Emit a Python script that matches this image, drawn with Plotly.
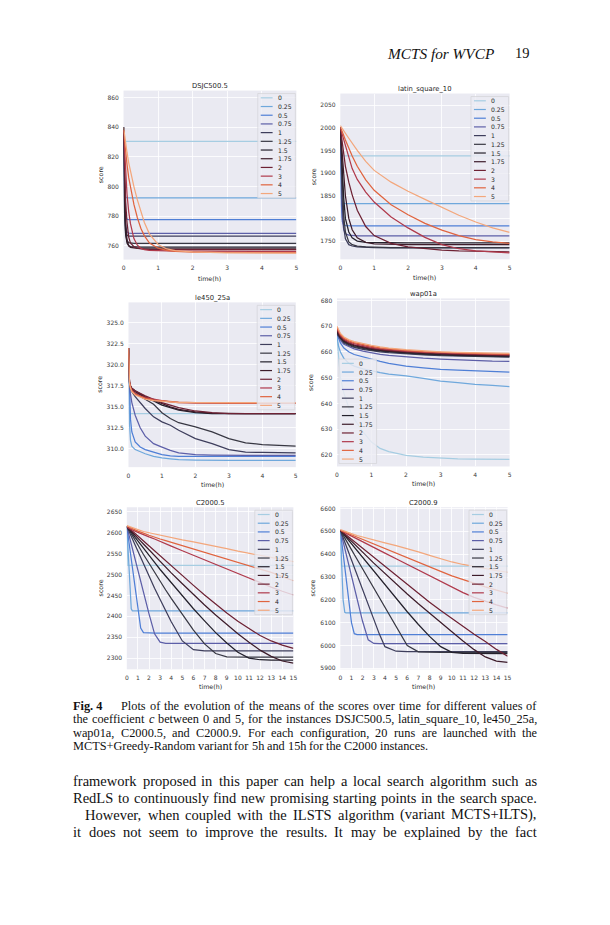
import re
import plotly.graph_objects as go

# page geometry: the browser puts the figure 8px from the top-left corner
PAGE_W, PAGE_H = 610, 925
OX, OY = 8, 8
FW, FH = 594, 909

# ---------------- data ----------------
coef_labels = ["0", "0.25", "0.5", "0.75", "1", "1.25", "1.5", "1.75", "2", "3", "4", "5"]
line_colors = ["#a6cde2", "#6fa8dc", "#4f7fd6", "#5d5fa8", "#3e3e5c", "#383843", "#24212c",
               "#3d1c2a", "#6e2234", "#b03a4c", "#e0643f", "#f3a77c"]

panel_titles = ["DSJC500.5", "latin_square_10", "le450_25a", "wap01a", "C2000.5", "C2000.9"]

xticks_5h = [0, 1, 2, 3, 4, 5]
xticks_15h = [0, 1, 2, 3, 4, 5, 6, 7, 8, 9, 10, 11, 12, 13, 14, 15]
yticks_dsjc = [760, 780, 800, 820, 840, 860]
yticks_latin = [1750, 1800, 1850, 1900, 1950, 2000, 2050]
yticks_le450 = [310.0, 312.5, 315.0, 317.5, 320.0, 322.5, 325.0]
yticks_wap = [620, 630, 640, 650, 660, 670, 680]
yticks_c5 = [2300, 2350, 2400, 2450, 2500, 2550, 2600, 2650]
yticks_c9 = [5900, 6000, 6100, 6200, 6300, 6400, 6500, 6600]

# DSJC500.5
time_dsjc = [0, 0.03, 0.06, 0.1, 0.15, 0.2, 0.3, 0.4, 0.5, 0.6, 0.75, 1.0, 1.25, 1.5, 2, 3, 5]
dsjc_0 = [840, 830.4, 830.4, 830.4, 830.4, 830.4, 830.4, 830.4, 830.4, 830.4, 830.4, 830.4, 830.4, 830.4, 830.4, 830.4, 830.4]
dsjc_025 = [840, 800, 793, 792.4, 792.4, 792.4, 792.4, 792.4, 792.4, 792.4, 792.4, 792.4, 792.4, 792.4, 792.4, 792.4, 792.4]
dsjc_05 = [840, 790, 780, 778, 777.8, 777.8, 777.8, 777.8, 777.8, 777.8, 777.8, 777.8, 777.8, 777.8, 777.8, 777.8, 777.8]
dsjc_075 = [840, 786, 773, 769.5, 768.6, 768.4, 768.4, 768.4, 768.4, 768.4, 768.4, 768.4, 768.4, 768.4, 768.4, 768.4, 768.4]
dsjc_1 = [840, 782, 770, 767.2, 766.7, 766.7, 766.7, 766.7, 766.7, 766.7, 766.7, 766.7, 766.7, 766.7, 766.7, 766.7, 766.7]
dsjc_125 = [840, 782, 768, 763.5, 762.2, 761.9, 761.8, 761.8, 761.8, 761.8, 761.8, 761.8, 761.8, 761.8, 761.8, 761.8, 761.8]
dsjc_15 = [840, 786, 768, 762, 760.2, 759.6, 759.3, 759.2, 759.2, 759.2, 759.2, 759.2, 759.2, 759.2, 759.2, 759.2, 759.2]
dsjc_175 = [838, 796, 776, 764, 760, 759, 758.5, 758.3, 758.2, 758.1, 758, 758, 758, 758, 758, 758, 758]
dsjc_2 = [838, 810, 790, 776, 766, 762, 759.5, 758.5, 758, 757.8, 757.6, 757.5, 757.5, 757.5, 757.5, 757.5, 757.5]
dsjc_3 = [838, 822, 808, 795, 783, 775, 765, 760.5, 758.5, 757.5, 757, 756.8, 756.6, 756.5, 756.5, 756.4, 756.3]
dsjc_4 = [838, 830, 823, 815, 806, 799, 788, 779, 772, 767, 762, 758.5, 757, 756.3, 755.8, 755.6, 755.5]
dsjc_5 = [840, 834, 829, 823, 816, 810, 800, 791, 783, 776, 768, 761, 758, 756.8, 756, 755.4, 755.2]

# latin_square_10
time_latin = [0, 0.03, 0.06, 0.1, 0.15, 0.25, 0.35, 0.5, 0.75, 1, 1.5, 2, 2.5, 3, 3.5, 4, 4.5, 5]
latin_0 = [2002, 1938, 1938, 1938, 1938, 1938, 1938, 1938, 1938, 1938, 1938, 1938, 1938, 1938, 1938, 1938, 1938, 1938]
latin_025 = [2002, 1845, 1834, 1833, 1832.6, 1832.6, 1832.6, 1832.6, 1832.6, 1832.6, 1832.6, 1832.6, 1832.6, 1832.6, 1832.6, 1832.6, 1832.6, 1832.6]
latin_05 = [2002, 1830, 1793, 1786, 1784, 1783.5, 1783.5, 1783.5, 1783.5, 1783.5, 1783.5, 1783.5, 1783.5, 1783.5, 1783.5, 1783.5, 1783.5, 1783.5]
latin_075 = [2002, 1868, 1800, 1775, 1766, 1763, 1762, 1761.5, 1761.5, 1761.5, 1761.5, 1761.5, 1761.5, 1761.5, 1761.5, 1761.5, 1761.5, 1761.5]
latin_1 = [2000, 1900, 1830, 1780, 1755, 1742, 1739, 1737, 1736, 1735.5, 1735, 1735, 1735, 1735, 1735, 1735, 1735, 1735]
latin_125 = [2000, 1925, 1860, 1805, 1770, 1748, 1742, 1739, 1737, 1736, 1735.5, 1735.2, 1735.2, 1735.2, 1735.2, 1735.2, 1735.2, 1735.2]
latin_15 = [2000, 1945, 1895, 1845, 1800, 1770, 1757, 1750, 1747, 1746.5, 1746, 1746, 1746, 1746, 1746, 1746, 1746, 1746]
latin_175 = [1998, 1965, 1930, 1890, 1850, 1800, 1775, 1757, 1747, 1744, 1742.5, 1742, 1742, 1742, 1742, 1742, 1742, 1742]
latin_2 = [2000, 1982, 1965, 1942, 1915, 1880, 1852, 1818, 1782, 1762, 1745, 1737, 1733, 1730, 1728, 1727, 1726, 1726]
latin_3 = [2000, 1992, 1983, 1972, 1958, 1932, 1910, 1886, 1858, 1836, 1803, 1779, 1758, 1742, 1733, 1728, 1725.5, 1724]
latin_4 = [2002, 1997, 1991, 1983, 1973, 1955, 1938, 1915, 1885, 1862, 1830, 1808, 1789, 1774, 1762, 1753, 1748, 1745]
latin_5 = [2005, 2002, 1999, 1994, 1988, 1977, 1966, 1950, 1926, 1906, 1880, 1860, 1842, 1824, 1807, 1792, 1779, 1769]

# le450_25a
time_le450 = [0, 0.03, 0.06, 0.1, 0.2, 0.35, 0.5, 0.75, 1, 1.25, 1.5, 2, 2.5, 3, 3.5, 4, 4.5, 5]
le450_0 = [322, 314.2, 314.2, 314.2, 314.2, 314.2, 314.2, 314.2, 314.2, 314.2, 314.2, 314.2, 314.2, 314.2, 314.2, 314.2, 314.2, 314.2]
le450_025 = [322, 313, 311, 310.3, 309.9, 309.6, 309.4, 309.1, 308.9, 308.8, 308.7, 308.65, 308.6, 308.6, 308.6, 308.6, 308.6, 308.6]
le450_05 = [322, 316, 313.5, 312, 310.8, 310.2, 309.9, 309.6, 309.3, 309.15, 309.1, 309.1, 309.1, 309.1, 309.1, 309.1, 309.1, 309.1]
le450_075 = [322, 317.5, 316.5, 315.5, 314, 312.5, 311.5, 310.6, 310.2, 309.8, 309.5, 309.3, 309.25, 309.2, 309.2, 309.2, 309.2, 309.2]
le450_1 = [322, 317.8, 317.2, 316.8, 316.2, 315.5, 314.8, 313.8, 313.2, 312.8, 312.2, 311.2, 310.6, 309.9, 309.6, 309.55, 309.5, 309.5]
le450_125 = [322, 317.8, 317.3, 317, 316.6, 316.2, 315.9, 315.3, 314.3, 313.6, 313.1, 312.6, 312.0, 311.2, 310.7, 310.5, 310.4, 310.3]
le450_15 = [322, 317.9, 317.4, 317.1, 316.8, 316.4, 316.1, 315.7, 315.2, 314.9, 314.6, 314.3, 314.2, 314.2, 314.2, 314.2, 314.2, 314.2]
le450_175 = [322, 317.9, 317.5, 317.2, 316.9, 316.5, 316.2, 315.8, 315.4, 315.0, 314.7, 314.4, 314.25, 314.2, 314.2, 314.2, 314.2, 314.2]
le450_2 = [322, 318, 317.5, 317.2, 316.9, 316.6, 316.3, 315.9, 315.5, 315.2, 314.9, 314.5, 314.3, 314.2, 314.2, 314.2, 314.2, 314.2]
le450_3 = [322, 318, 317.4, 317.0, 316.6, 316.3, 316.1, 315.9, 315.75, 315.6, 315.5, 315.45, 315.4, 315.4, 315.4, 315.4, 315.4, 315.4]
le450_4 = [322, 318, 317.3, 316.9, 316.5, 316.2, 316.0, 315.8, 315.7, 315.6, 315.55, 315.5, 315.45, 315.45, 315.45, 315.45, 315.45, 315.45]
le450_5 = [322, 317.8, 317.2, 316.8, 316.4, 316.1, 315.9, 315.75, 315.65, 315.55, 315.5, 315.5, 315.5, 315.5, 315.5, 315.5, 315.5, 315.5]

# wap01a
time_wap = [0, 0.05, 0.1, 0.2, 0.35, 0.5, 0.75, 1, 1.25, 1.5, 2, 2.5, 3, 3.5, 4, 4.5, 5]
wap_0 = [666, 656, 650, 644, 638, 634, 629, 625, 622.5, 621.3, 619.8, 619.1, 618.7, 618.5, 618.4, 618.3, 618.3]
wap_025 = [666, 662, 660, 657.5, 655.5, 654.5, 653.4, 652.6, 652, 651.4, 650.7, 649.7, 648.7, 648.1, 647.4, 647, 646.5]
wap_05 = [667, 665, 663.5, 661.5, 660, 659, 658, 657.1, 656.3, 655.6, 654.5, 653.8, 653.2, 652.9, 652.6, 652.4, 652.2]
wap_075 = [667, 665.5, 664.5, 663, 662, 661.2, 660.3, 659.6, 659.1, 658.7, 658.1, 657.6, 657.2, 656.9, 656.6, 656.4, 656.3]
wap_1 = [667, 666, 665, 663.5, 662.5, 661.8, 661, 660.4, 660, 659.7, 659.2, 658.9, 658.6, 658.4, 658.2, 658.1, 658.0]
wap_125 = [667.5, 666.3, 665.3, 663.9, 662.8, 662.1, 661.3, 660.7, 660.3, 660, 659.5, 659.1, 658.8, 658.6, 658.4, 658.3, 658.2]
wap_15 = [668, 666.6, 665.6, 664.2, 663.1, 662.4, 661.6, 661, 660.6, 660.2, 659.7, 659.3, 659, 658.8, 658.6, 658.5, 658.4]
wap_175 = [668, 666.8, 665.8, 664.4, 663.3, 662.6, 661.8, 661.2, 660.8, 660.4, 659.9, 659.5, 659.2, 659, 658.8, 658.7, 658.6]
wap_2 = [668.5, 667, 666, 664.6, 663.5, 662.8, 662, 661.4, 661, 660.6, 660.1, 659.7, 659.4, 659.2, 659, 658.9, 658.8]
wap_3 = [669, 667.4, 666.4, 665, 663.9, 663.2, 662.4, 661.8, 661.3, 660.9, 660.3, 659.9, 659.6, 659.4, 659.2, 659.1, 659.0]
wap_4 = [669.5, 667.8, 666.8, 665.4, 664.3, 663.6, 662.8, 662.2, 661.6, 661.2, 660.6, 660.1, 659.8, 659.6, 659.4, 659.3, 659.2]
wap_5 = [670, 668.2, 667.2, 665.8, 664.7, 664, 663.2, 662.6, 662, 661.5, 660.9, 660.4, 660, 659.8, 659.6, 659.5, 659.4]

# C2000.5 and C2000.9 (shared time grid)
time_c2000 = [0, 0.1, 0.25, 0.4, 0.5, 0.75, 1, 1.25, 1.5, 2, 2.5, 3, 3.5, 4, 5, 6, 7, 8, 9, 10, 11, 12, 13, 14, 15]
c5_0 = [2615, 2522, 2522, 2522, 2522, 2522, 2522, 2522, 2522, 2522, 2522, 2522, 2522, 2522, 2522, 2522, 2522, 2522, 2522, 2522, 2522, 2522, 2522, 2522, 2522]
c5_025 = [2615, 2565, 2490, 2418, 2413, 2413, 2413, 2413, 2413, 2413, 2413, 2413, 2413, 2413, 2413, 2413, 2413, 2413, 2413, 2413, 2413, 2413, 2413, 2413, 2413]
c5_05 = [2615, 2595, 2565, 2535, 2515, 2465, 2415, 2372, 2361, 2360, 2360, 2360, 2360, 2360, 2360, 2360, 2360, 2360, 2360, 2360, 2360, 2360, 2360, 2360, 2360]
c5_075 = [2615, 2605, 2590, 2575, 2564, 2537, 2510, 2484, 2458, 2406, 2358, 2338, 2335, 2335, 2335, 2335, 2335, 2335, 2335, 2335, 2335, 2335, 2335, 2335, 2335]
c5_1 = [2615, 2609, 2600, 2591, 2585, 2570, 2555, 2540, 2525, 2496, 2467, 2440, 2413, 2387, 2341, 2320, 2317, 2317, 2317, 2317, 2317, 2317, 2317, 2317, 2317]
c5_125 = [2615, 2610, 2604, 2597, 2593, 2582, 2570, 2559, 2548, 2527, 2505, 2484, 2463, 2443, 2404, 2367, 2334, 2311, 2303, 2302, 2302, 2302, 2302, 2302, 2302]
c5_15 = [2615, 2611, 2606, 2601, 2598, 2589, 2580, 2571, 2563, 2546, 2529, 2512, 2496, 2480, 2449, 2418, 2389, 2361, 2336, 2314, 2300, 2296, 2295, 2295, 2295]
c5_175 = [2615, 2612, 2608, 2604, 2601, 2594, 2587, 2580, 2573, 2559, 2545, 2531, 2517, 2504, 2478, 2452, 2427, 2403, 2380, 2358, 2338, 2319, 2304, 2293, 2288]
c5_2 = [2615, 2613, 2609, 2606, 2604, 2598, 2592, 2586, 2580, 2568, 2556, 2544, 2532, 2520, 2497, 2474, 2451, 2429, 2408, 2388, 2370, 2354, 2341, 2331, 2323]
c5_3 = [2613, 2612, 2610, 2608, 2607, 2604, 2601, 2598, 2596, 2590, 2585, 2579, 2574, 2568, 2557, 2546, 2535, 2524, 2513, 2502, 2491, 2480, 2470, 2460, 2451]
c5_4 = [2616, 2615, 2613, 2611, 2610, 2607, 2604, 2602, 2599, 2594, 2589, 2585, 2581, 2577, 2569, 2561, 2553, 2545, 2537, 2529, 2521, 2513, 2505, 2495, 2485]
c5_5 = [2617, 2616, 2614, 2613, 2612, 2609, 2607, 2605, 2603, 2600, 2597, 2594, 2591, 2588, 2583, 2578, 2573, 2567, 2562, 2556, 2551, 2546, 2541, 2536, 2531]

c9_0 = [6505, 6348, 6348, 6348, 6348, 6348, 6348, 6348, 6348, 6348, 6348, 6348, 6348, 6348, 6348, 6348, 6348, 6348, 6348, 6348, 6348, 6348, 6348, 6348, 6348]
c9_025 = [6505, 6380, 6200, 6145, 6143, 6143, 6143, 6143, 6143, 6143, 6143, 6143, 6143, 6143, 6143, 6143, 6143, 6143, 6143, 6143, 6143, 6143, 6143, 6143, 6143]
c9_05 = [6505, 6465, 6400, 6340, 6300, 6200, 6100, 6052, 6048, 6048, 6048, 6048, 6048, 6048, 6048, 6048, 6048, 6048, 6048, 6048, 6048, 6048, 6048, 6048, 6048]
c9_075 = [6505, 6485, 6455, 6425, 6405, 6355, 6305, 6255, 6205, 6105, 6025, 6009, 6008, 6008, 6008, 6008, 6008, 6008, 6008, 6008, 6008, 6008, 6008, 6008, 6008]
c9_1 = [6505, 6492, 6472, 6452, 6440, 6408, 6375, 6343, 6310, 6245, 6180, 6115, 6050, 5995, 5975, 5973, 5973, 5973, 5973, 5973, 5973, 5973, 5973, 5973, 5973]
c9_125 = [6505, 6497, 6484, 6471, 6463, 6442, 6420, 6399, 6378, 6335, 6293, 6250, 6208, 6165, 6080, 6000, 5972, 5970, 5970, 5970, 5970, 5970, 5970, 5970, 5970]
c9_15 = [6505, 6499, 6490, 6481, 6475, 6460, 6445, 6430, 6415, 6385, 6355, 6325, 6295, 6265, 6205, 6148, 6092, 6040, 5995, 5970, 5966, 5965, 5965, 5965, 5965]
c9_175 = [6505, 6500, 6493, 6486, 6481, 6469, 6457, 6445, 6433, 6409, 6385, 6361, 6338, 6315, 6270, 6226, 6183, 6141, 6100, 6060, 6020, 5982, 5950, 5932, 5926]
c9_2 = [6505, 6501, 6495, 6489, 6485, 6475, 6465, 6455, 6445, 6425, 6405, 6385, 6365, 6345, 6305, 6266, 6228, 6190, 6153, 6117, 6082, 6049, 6018, 5983, 5953]
c9_3 = [6505, 6503, 6499, 6495, 6492, 6486, 6480, 6474, 6468, 6455, 6443, 6431, 6418, 6405, 6380, 6355, 6330, 6305, 6280, 6255, 6232, 6211, 6193, 6178, 6164]
c9_4 = [6505, 6503, 6500, 6497, 6495, 6490, 6485, 6480, 6475, 6465, 6455, 6445, 6435, 6425, 6405, 6385, 6365, 6345, 6325, 6305, 6288, 6272, 6257, 6243, 6229]
c9_5 = [6508, 6506, 6503, 6500, 6498, 6494, 6490, 6486, 6482, 6475, 6468, 6462, 6456, 6450, 6438, 6425, 6410, 6395, 6380, 6366, 6355, 6345, 6336, 6328, 6321]

header_title = "MCTS for WVCP"
page_number = "19"
caption_label = "Fig. 4"
caption_lines = [
    "Plots of the evolution of the means of the scores over time for different values of",
    "the coefficient <i>c</i> between 0 and 5, for the instances DSJC500.5, latin_square_10, le450_25a,",
    "wap01a, C2000.5, and C2000.9. For each configuration, 20 runs are launched with the",
    "MCTS+Greedy-Random variant for 5h and 15h for the C2000 instances.",
]
body_lines = [
    "framework proposed in this paper can help a local search algorithm such as",
    "RedLS to continuously find new promising starting points in the search space.",
    "However, when coupled with the ILSTS algorithm (variant MCTS+ILTS),",
    "it does not seem to improve the results. It may be explained by the fact",
]

# ---------------- layout of panels (page pixels) ----------------
panels = [
    dict(t=time_dsjc, series=[dsjc_0, dsjc_025, dsjc_05, dsjc_075, dsjc_1, dsjc_125, dsjc_15, dsjc_175, dsjc_2, dsjc_3, dsjc_4, dsjc_5],
         box=(122.7, 88, 297.3, 258), yr=(750.8, 864.7), xr=(0, 5), yt=yticks_dsjc, yfmt="{:d}", xt=xticks_5h,
         leg="tr", score_x=99, time_y=276.5),
    dict(t=time_latin, series=[latin_0, latin_025, latin_05, latin_075, latin_1, latin_125, latin_15, latin_175, latin_2, latin_3, latin_4, latin_5],
         box=(341.7, 91, 512.7, 257.7), yr=(1709.6, 2075.7), xr=(0, 5), yt=yticks_latin, yfmt="{:d}", xt=xticks_5h,
         leg="tr", score_x=315, time_y=275.7),
    dict(t=time_le450, series=[le450_0, le450_025, le450_05, le450_075, le450_1, le450_125, le450_15, le450_175, le450_2, le450_3, le450_4, le450_5],
         box=(127.7, 301, 296.7, 466.7), yr=(307.8, 327.45), xr=(0, 5), yt=yticks_le450, yfmt="{:.1f}", xt=xticks_5h,
         leg="tr", score_x=99, time_y=484),
    dict(t=time_wap, series=[wap_0, wap_025, wap_05, wap_075, wap_1, wap_125, wap_15, wap_175, wap_2, wap_3, wap_4, wap_5],
         box=(338.3, 297, 512.7, 466), yr=(615.5, 680.8), xr=(0, 5), yt=yticks_wap, yfmt="{:d}", xt=xticks_5h,
         leg="bl", score_x=311.7, time_y=483.3),
    dict(t=time_c2000, series=[c5_0, c5_025, c5_05, c5_075, c5_1, c5_125, c5_15, c5_175, c5_2, c5_3, c5_4, c5_5],
         box=(126, 507, 294.3, 670), yr=(2273, 2661), xr=(0, 15), yt=yticks_c5, yfmt="{:d}", xt=xticks_15h,
         leg="tr", score_x=99, time_y=687.7),
    dict(t=time_c2000, series=[c9_0, c9_025, c9_05, c9_075, c9_1, c9_125, c9_15, c9_175, c9_2, c9_3, c9_4, c9_5],
         box=(341.7, 507, 510.7, 670), yr=(5895.6, 6605.7), xr=(0, 15), yt=yticks_c9, yfmt="{:d}", xt=xticks_15h,
         leg="tr", score_x=313.3, time_y=687.5),
]

SANS = "DejaVu Sans"
SERIF = "Liberation Serif"
TXT = "#262626"
TICK = "#3a3a3a"
INK = "#111111"

# Times-compatible advance widths (1/1000 em) used to justify the text lines
_W = {" ": 250, ".": 250, ",": 250, "_": 500, "-": 333, "+": 564, "(": 333, ")": 333}
_W.update({c: 500 for c in "0123456789"})
_W.update(dict(zip("abcdefghijklmnopqrstuvwxyz",
                   [444, 500, 444, 500, 444, 333, 500, 500, 278, 278, 500, 278, 778,
                    500, 500, 500, 500, 333, 389, 278, 500, 500, 722, 500, 500, 444])))
_W.update(dict(zip("ABCDEFGHIJKLMNOPQRSTUVWXYZ",
                   [722, 667, 667, 722, 611, 556, 722, 722, 333, 389, 722, 611, 889,
                    722, 722, 556, 722, 667, 556, 611, 722, 722, 944, 722, 722, 611])))


def text_w(s, size):
    plain = re.sub(r"<[^>]+>", "", s)
    return sum(_W.get(ch, 500) for ch in plain) * size / 1000.0


def fx(px):
    return (px - OX) / FW


def fy(py):
    return 1 - (py - OY) / FH


fig = go.Figure()
layout = dict(width=FW, height=FH, margin=dict(l=0, r=0, t=0, b=0), paper_bgcolor="white",
              plot_bgcolor="#EAEAF2", showlegend=False)
shapes = []
annotations = []


def put_text(text, x, y, size, family=SERIF, color=INK, anchor="left"):
    annotations.append(dict(text=text, x=fx(x), y=fy(y), xref="paper", yref="paper",
                            xanchor=anchor, yanchor="middle", showarrow=False, borderpad=0,
                            font=dict(family=family, size=size, color=color)))


def put_line(text, x_left, x_right, y, size, justify=True):
    words = text.split(" ")
    widths = [text_w(w, size) for w in words]
    if justify and len(words) > 1:
        gap = (x_right - x_left - sum(widths)) / (len(words) - 1)
        gap = max(gap, 0.2 * size)
    else:
        gap = 0.25 * size
    x = x_left
    for w, wd in zip(words, widths):
        put_text(w, x, y, size)
        x += wd + gap


for i, p in enumerate(panels):
    n = i + 1
    sfx = "" if n == 1 else str(n)
    x0, y0, x1, y1 = p["box"]
    for vals, lab, col in zip(p["series"], coef_labels, line_colors):
        assert len(vals) == len(p["t"])
        fig.add_trace(go.Scatter(x=p["t"], y=vals, mode="lines", name=lab,
                                 line=dict(color=col, width=1.25),
                                 xaxis="x" + sfx, yaxis="y" + sfx, showlegend=False,
                                 hoverinfo="skip"))
    layout["xaxis" + sfx] = dict(domain=[fx(x0), fx(x1)], anchor="y" + sfx, range=list(p["xr"]),
                                 tickvals=p["xt"], ticktext=[str(v) for v in p["xt"]],
                                 showgrid=True, gridcolor="white", gridwidth=0.8, zeroline=False,
                                 showline=False, ticks="outside", ticklen=2.5, tickcolor="rgba(0,0,0,0)",
                                 tickfont=dict(family=SANS, size=6, color=TICK), fixedrange=True)
    layout["yaxis" + sfx] = dict(domain=[fy(y1), fy(y0)], anchor="x" + sfx, range=list(p["yr"]),
                                 tickvals=p["yt"], ticktext=[p["yfmt"].format(v) for v in p["yt"]],
                                 showgrid=True, gridcolor="white", gridwidth=0.8, zeroline=False,
                                 showline=False, ticks="outside", ticklen=2.5, tickcolor="rgba(0,0,0,0)",
                                 tickfont=dict(family=SANS, size=6, color=TICK), fixedrange=True)
    put_text(panel_titles[i], (x0 + x1) / 2, y0 - 4.5, 6.8, family=SANS, color=TXT, anchor="center")
    put_text("time(h)", (x0 + x1) / 2, p["time_y"], 6.3, family=SANS, color=TXT, anchor="center")
    annotations.append(dict(text="score", x=fx(p["score_x"]), y=fy((y0 + y1) / 2), xref="paper", yref="paper",
                            xanchor="center", yanchor="middle", showarrow=False, textangle=-90,
                            font=dict(family=SANS, size=6.3, color=TXT)))
    # legend frame with one entry per coefficient
    lw, lh, step = 38, 105, 8.75
    if p["leg"] == "tr":
        bx, by = x1 - lw - 1, y0 + 3
    else:
        bx, by = x0 + 2, y1 - lh - 3
    shapes.append(dict(type="rect", xref="paper", yref="paper", x0=fx(bx), x1=fx(bx + lw),
                       y0=fy(by + lh), y1=fy(by), fillcolor="rgba(236,236,243,0.82)",
                       line=dict(color="rgba(210,210,215,1)", width=0.7), layer="above"))
    for k, (lab, col) in enumerate(zip(coef_labels, line_colors)):
        yy = by + 4.3 + k * step
        shapes.append(dict(type="line", xref="paper", yref="paper", x0=fx(bx + 3), x1=fx(bx + 15),
                           y0=fy(yy), y1=fy(yy), line=dict(color=col, width=1.2), layer="above"))
        put_text(lab, bx + 19, yy, 6.1, family=SANS, color=TXT)

# running header
put_text("<i>" + header_title + "</i>", 498, 50.7, 15.3, anchor="right")
put_text(page_number, 534, 50.7, 14.5, anchor="right")

# caption (justified between x=71 and x=539, last line ragged)
CAP_SIZE, CAP_Y0, CAP_STEP = 12.3, 707, 13.4
put_text("<b>" + caption_label + "</b>", 71, CAP_Y0, CAP_SIZE)
for k, line in enumerate(caption_lines):
    left = 119 if k == 0 else 71
    put_line(line, left, 539, CAP_Y0 + k * CAP_STEP, CAP_SIZE, justify=(k < len(caption_lines) - 1))

# body text (all lines justified, third one indented)
BODY_SIZE, BODY_Y0, BODY_STEP = 14.5, 782, 17.2
for k, line in enumerate(body_lines):
    left = 83 if k == 2 else 71
    put_line(line, left, 539, BODY_Y0 + k * BODY_STEP, BODY_SIZE, justify=True)

layout["shapes"] = shapes
layout["annotations"] = annotations
fig.update_layout(**layout)
fig.write_html("out.html", config={"displayModeBar": False, "staticPlot": True})
